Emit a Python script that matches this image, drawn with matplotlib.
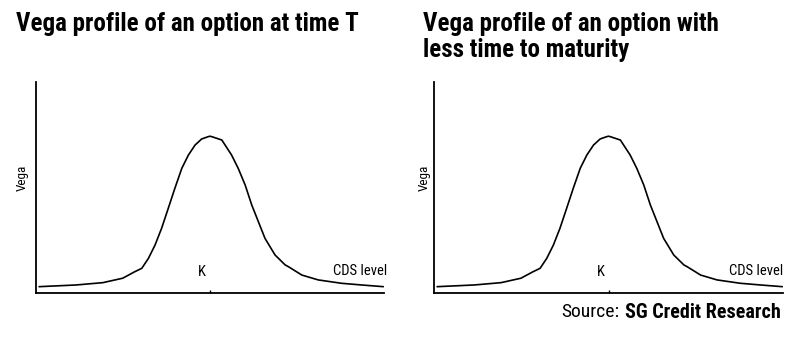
import matplotlib
matplotlib.use('Agg')
import matplotlib.pyplot as plt

# vega profile (x: CDS level, strike K at 50; y: vega, axis 0-100)
cds_level = [0.9, 11.5, 19.2, 24.9, 28.4, 30.4, 32.3, 34.2, 36.1, 38.0, 39.9, 41.9,
             43.8, 45.7, 47.6, 49.5, 50.0, 50.5, 53.4, 56.2, 58.1, 60.1, 62.0, 63.9,
             65.8, 68.7, 71.6, 72.5, 76.4, 81.1, 87.8, 93.6, 99.8]
vega_t = [3.0, 3.8, 4.9, 7.0, 10.1, 11.7, 16.4, 22.7, 30.7, 40.1, 49.6, 59.1,
          65.4, 70.1, 73.0, 74.1, 74.3, 74.1, 72.5, 65.4, 59.1, 51.2, 41.7, 33.8,
          25.9, 18.0, 13.3, 12.5, 8.5, 6.2, 4.6, 3.8, 3.0]
vega_short = [3.0, 3.8, 4.9, 7.0, 10.1, 11.7, 16.4, 22.7, 30.7, 40.1, 49.6, 59.1,
              65.4, 70.1, 73.0, 74.1, 74.3, 74.1, 72.5, 65.4, 59.1, 51.2, 41.7, 33.8,
              25.9, 18.0, 13.3, 12.5, 8.5, 6.2, 4.6, 3.8, 3.0]
strike = 50

titles = ['Vega profile of an option at time T',
          'Vega profile of an option with\nless time to maturity']

narrow = ['Roboto Condensed', 'DejaVu Sans']
W, H = 800, 344

fig = plt.figure(figsize=(8, 3.44), dpi=100)

def px(x, y):
    return x / W, 1 - y / H

panels = [
    dict(rect=[36 / W, 51 / H, 348 / W, 211 / H], vega=vega_t, title_x=16, vlab_x=22, cds_x=100.8),
    dict(rect=[434 / W, 51 / H, 349 / W, 211 / H], vega=vega_short, title_x=423, vlab_x=424, cds_x=100),
]

for p, title in zip(panels, titles):
    ax = fig.add_axes(p['rect'])
    ax.plot(cds_level, p['vega'], color='black', lw=1.2,
            solid_capstyle='round', solid_joinstyle='round')
    ax.set_xlim(0, 100)
    ax.set_ylim(0, 100)
    for s in ['top', 'right']:
        ax.spines[s].set_visible(False)
    for s in ['left', 'bottom']:
        ax.spines[s].set_linewidth(1.3)
    ax.set_yticks([])
    ax.set_xticks([strike])
    ax.set_xticklabels([])
    ax.tick_params(axis='x', direction='in', length=2, width=1)
    ax.text(strike - 2.3, 10, 'K', ha='center', va='center', fontsize=10.5, family=narrow)
    ax.text(p['cds_x'], 10.5, 'CDS level', ha='right', va='center', fontsize=10.5,
            family=narrow, clip_on=False)

    x, y = px(p['title_x'], 12)
    fig.text(x, y, title, ha='left', va='top', fontsize=18, fontweight='bold',
             family=narrow, linespacing=1.1)
    x, y = px(p['vlab_x'], 178)
    fig.text(x, y, 'Vega', rotation=90, ha='center', va='center', fontsize=9.5,
             family=narrow)

x, y = px(781, 312)
fig.text(x, y, 'SG Credit Research', ha='right', va='center', fontsize=14.5,
         fontweight='bold', family=narrow)
x, y = px(619, 312)
fig.text(x, y, 'Source:', ha='right', va='center', fontsize=14, family=narrow)

fig.savefig('out.png', dpi=100, facecolor='white')
